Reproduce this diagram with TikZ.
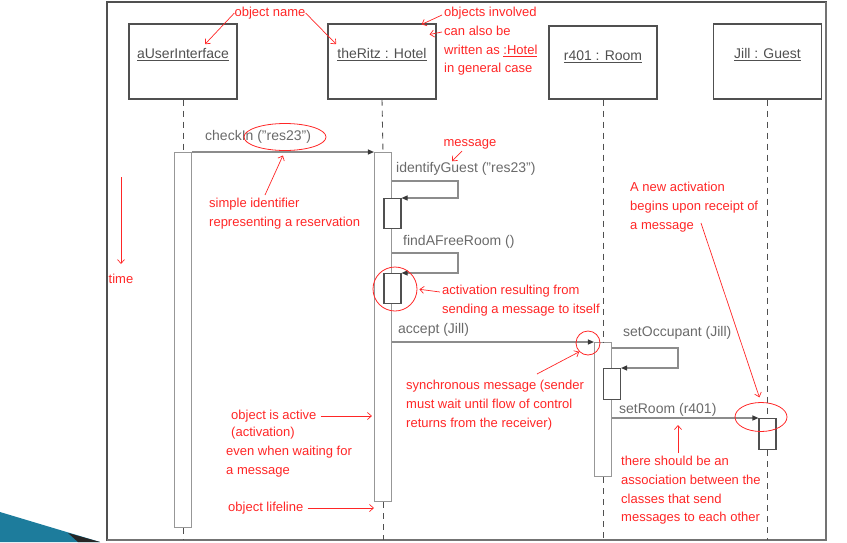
\documentclass[tikz,border=0pt]{standalone}
\usepackage{amsmath,tikz,xcolor,fontspec}
\usetikzlibrary{arrows.meta,shapes.geometric}
\setmainfont{Liberation Sans}
\definecolor{boxgray}{HTML}{505050}
\definecolor{linegray}{HTML}{8C8C8C}
\definecolor{labelgray}{HTML}{6A6A6A}
\definecolor{notered}{HTML}{FF2626}
\definecolor{slideteal}{HTML}{1D7C9C}
\tikzset{
  objbox/.style={draw=boxgray,line width=1.1pt,minimum width=108pt,minimum height=75pt,inner sep=0pt},
  objname/.style={text=boxgray,font=\fontsize{14}{16}\selectfont,inner sep=1pt},
  lifeline/.style={draw=boxgray,line width=0.9pt,dash pattern=on 6pt off 5pt},
  actbar/.style={draw=linegray!90,line width=1.1pt,fill=white,minimum width=17pt,inner sep=0pt,anchor=north},
  selfbar/.style={draw=boxgray,line width=1.1pt,fill=white,minimum width=17pt,minimum height=30pt,inner sep=0pt,anchor=north},
  msgline/.style={draw=linegray,line width=1.1pt,-{Triangle[length=6pt,width=5pt,color=boxgray!70!black]}},
  msglabel/.style={text=labelgray,font=\fontsize{14}{16}\selectfont,anchor=west,inner sep=1pt},
  note/.style={text=notered,font=\fontsize{13}{18.7}\selectfont,align=left,inner sep=0pt},
  notearrow/.style={draw=notered,line width=0.7pt,-{Straight Barb[length=4pt,width=7pt]}},
  ring/.style={draw=notered,line width=0.8pt,inner sep=0pt}
}

\begin{document}
\begin{tikzpicture}[x=1pt,y=-1pt]
\useasboundingbox (0,0) rectangle (847,542);
\fill[slideteal] (0,512) -- (100,542) -- (0,542) -- cycle;
\fill[black!85] (68,533) -- (100,542) -- (78,542) -- cycle;
\draw[boxgray,line width=1.2pt] (107,2) rectangle (826,540);
\draw[boxgray!80,line width=2pt] (826,2) -- (826,540) -- (107,540);
\coordinate (bottom) at (0,540);

\node[objbox] (ui) at (183,61.5) {};
\node[objbox] (hotel) at (382,61.5) {};
\node[objbox,minimum height=73pt] (room) at (603,62.5) {};
\node[objbox] (guest) at (767.5,61.5) {};
\node[objname] (uiname) at (183,55) {\underline{aUserInterface}};
\node[objname] (hotelname) at (382,55) {\underline{theRitz : Hotel}};
\node[objname] (roomname) at (603,57) {\underline{r401 : Room}};
\node[objname] (guestname) at (767.5,55) {\underline{Jill : Guest}};

\node[actbar,minimum height=375pt] (uiact) at (183,152) {};
\node[actbar,minimum height=349pt] (hotelact) at (383,152) {};
\node[actbar,minimum height=134pt] (roomact) at (603,342) {};
\node[actbar,minimum height=31pt,draw=boxgray] (guestact) at (767.5,418) {};
\draw[lifeline] (ui.south) -- (uiact.north);
\draw[lifeline] (uiact.south) -- (uiact.south |- bottom);
\draw[lifeline] (hotel.south) -- (hotelact.north);
\draw[lifeline] (hotelact.south) -- (hotelact.south |- bottom);
\draw[lifeline] (room.south) -- (roomact.north);
\draw[lifeline] (roomact.south) -- (roomact.south |- bottom);
\draw[lifeline] (guest.south) -- (guestact.north);
\draw[lifeline] (guestact.south) -- (guestact.south |- bottom);
\node[selfbar] (idgact) at (392.5,198) {};
\node[selfbar] (faract) at (392.5,273) {};
\node[selfbar,minimum height=31pt] (occact) at (612,368) {};

\draw[msgline] (uiact.north east) -- (hotelact.north west);
\node[msglabel] (checkin) at (204,137) {checkIn ("res23")};
\draw[msgline] (hotelact.east |- 0,181) -| (458,198) -- (idgact.north east);
\node[msglabel] (idglabel) at (395,169) {identifyGuest ("res23")};
\draw[msgline] (hotelact.east |- 0,253) -| (458,273) -- (faract.north east);
\node[msglabel] (farlabel) at (402,242) {findAFreeRoom ()};
\draw[msgline] (hotelact.east |- roomact.north west) -- (roomact.north west);
\node[msglabel] (acceptlabel) at (397,330) {accept (Jill)};
\draw[msgline] (roomact.east |- 0,348) -| (678,368) -- (occact.north east);
\node[msglabel] (occlabel) at (622,333) {setOccupant (Jill)};
\draw[msgline] (roomact.east |- guestact.north west) -- (guestact.north west);
\node[msglabel] (roomlabel) at (618,410) {setRoom (r401)};

\node[ring,ellipse,minimum width=82pt,minimum height=27pt] (resring) at (285,137) {};
\node[ring,circle,minimum size=44pt] (farring) at (395,289) {};
\node[ring,circle,minimum size=24pt] (acceptring) at (588,343) {};
\node[ring,ellipse,minimum width=52pt,minimum height=29pt] (guestring) at (761,417) {};

\node[note] (namenote) at (270,13) {object name};
\draw[notearrow] (namenote.west) -- ([xshift=22pt,yshift=3pt]uiname.north);
\draw[notearrow] (namenote.east) -- ([yshift=3pt]hotelname.north west);
\node[note,anchor=north west] (involvednote) at (444,7) {objects involved\\can also be\\written as \underline{:Hotel}\\in general case};
\draw[notearrow] ([xshift=-2pt,yshift=-8pt]involvednote.north west) -- ([xshift=-15pt,yshift=-1pt]hotel.north east);
\draw[notearrow] ([xshift=-2pt,yshift=-25pt]involvednote.north west) -- ([xshift=-7pt,yshift=-11pt]hotel.north east);
\node[note] (msgnote) at (470,144) {message};
\draw[notearrow] ([xshift=-8pt,yshift=-2pt]msgnote.south) -- ([xshift=57pt]idglabel.north west);
\coordinate (timetop) at (121,177);
\node[note] (timenote) at (121,279) {time};
\draw[notearrow,shorten >=10pt] (timetop) -- (timenote.north);
\node[note,anchor=north west] (simplenote) at (209,198) {simple identifier\\representing a reservation};
\draw[notearrow,shorten >=5pt] ([xshift=56pt,yshift=3pt]simplenote.north west) -- (resring.south);
\node[note,anchor=north west] (farnote) at (442,285) {activation resulting from\\sending a message to itself};
\draw[notearrow,shorten >=2pt] ([xshift=-2pt,yshift=-7pt]farnote.north west) -- (farring.east);
\node[note,anchor=north west] (newnote) at (630,182) {A new activation\\begins upon receipt of\\a message};
\draw[notearrow,shorten >=5pt] ([xshift=71pt,yshift=-41pt]newnote.north west) -- (guestring.north);
\node[note,anchor=north west] (syncnote) at (406,380) {synchronous message (sender\\must wait until flow of control\\returns from the receiver)};
\draw[notearrow] ([xshift=131pt,yshift=6pt]syncnote.north west) -- (acceptring.south west);
\node[note,anchor=north west] (assocnote) at (621,456) {there should be an\\association between the\\classes that send\\messages to each other};
\coordinate (assoctail) at ([xshift=57pt,yshift=3pt]assocnote.north west);
\draw[notearrow,shorten >=7pt] (assoctail) -- (assoctail |- guestact.north);
\node[note,anchor=west] (activenote) at (231,416) {object is active};
\node[note,anchor=north west] (activemore) at (226,427) {\hspace{5pt}(activation)\\even when waiting for\\a message};
\draw[notearrow,shorten <=4pt,shorten >=2pt] (activenote.east) -- (hotelact.west |- activenote.east);
\node[note,anchor=west] (lifenote) at (228,508) {object lifeline};
\draw[notearrow,shorten <=4pt,shorten >=9pt] (lifenote.east) -- (hotelact.south |- lifenote.east);
\end{tikzpicture}
\end{document}
